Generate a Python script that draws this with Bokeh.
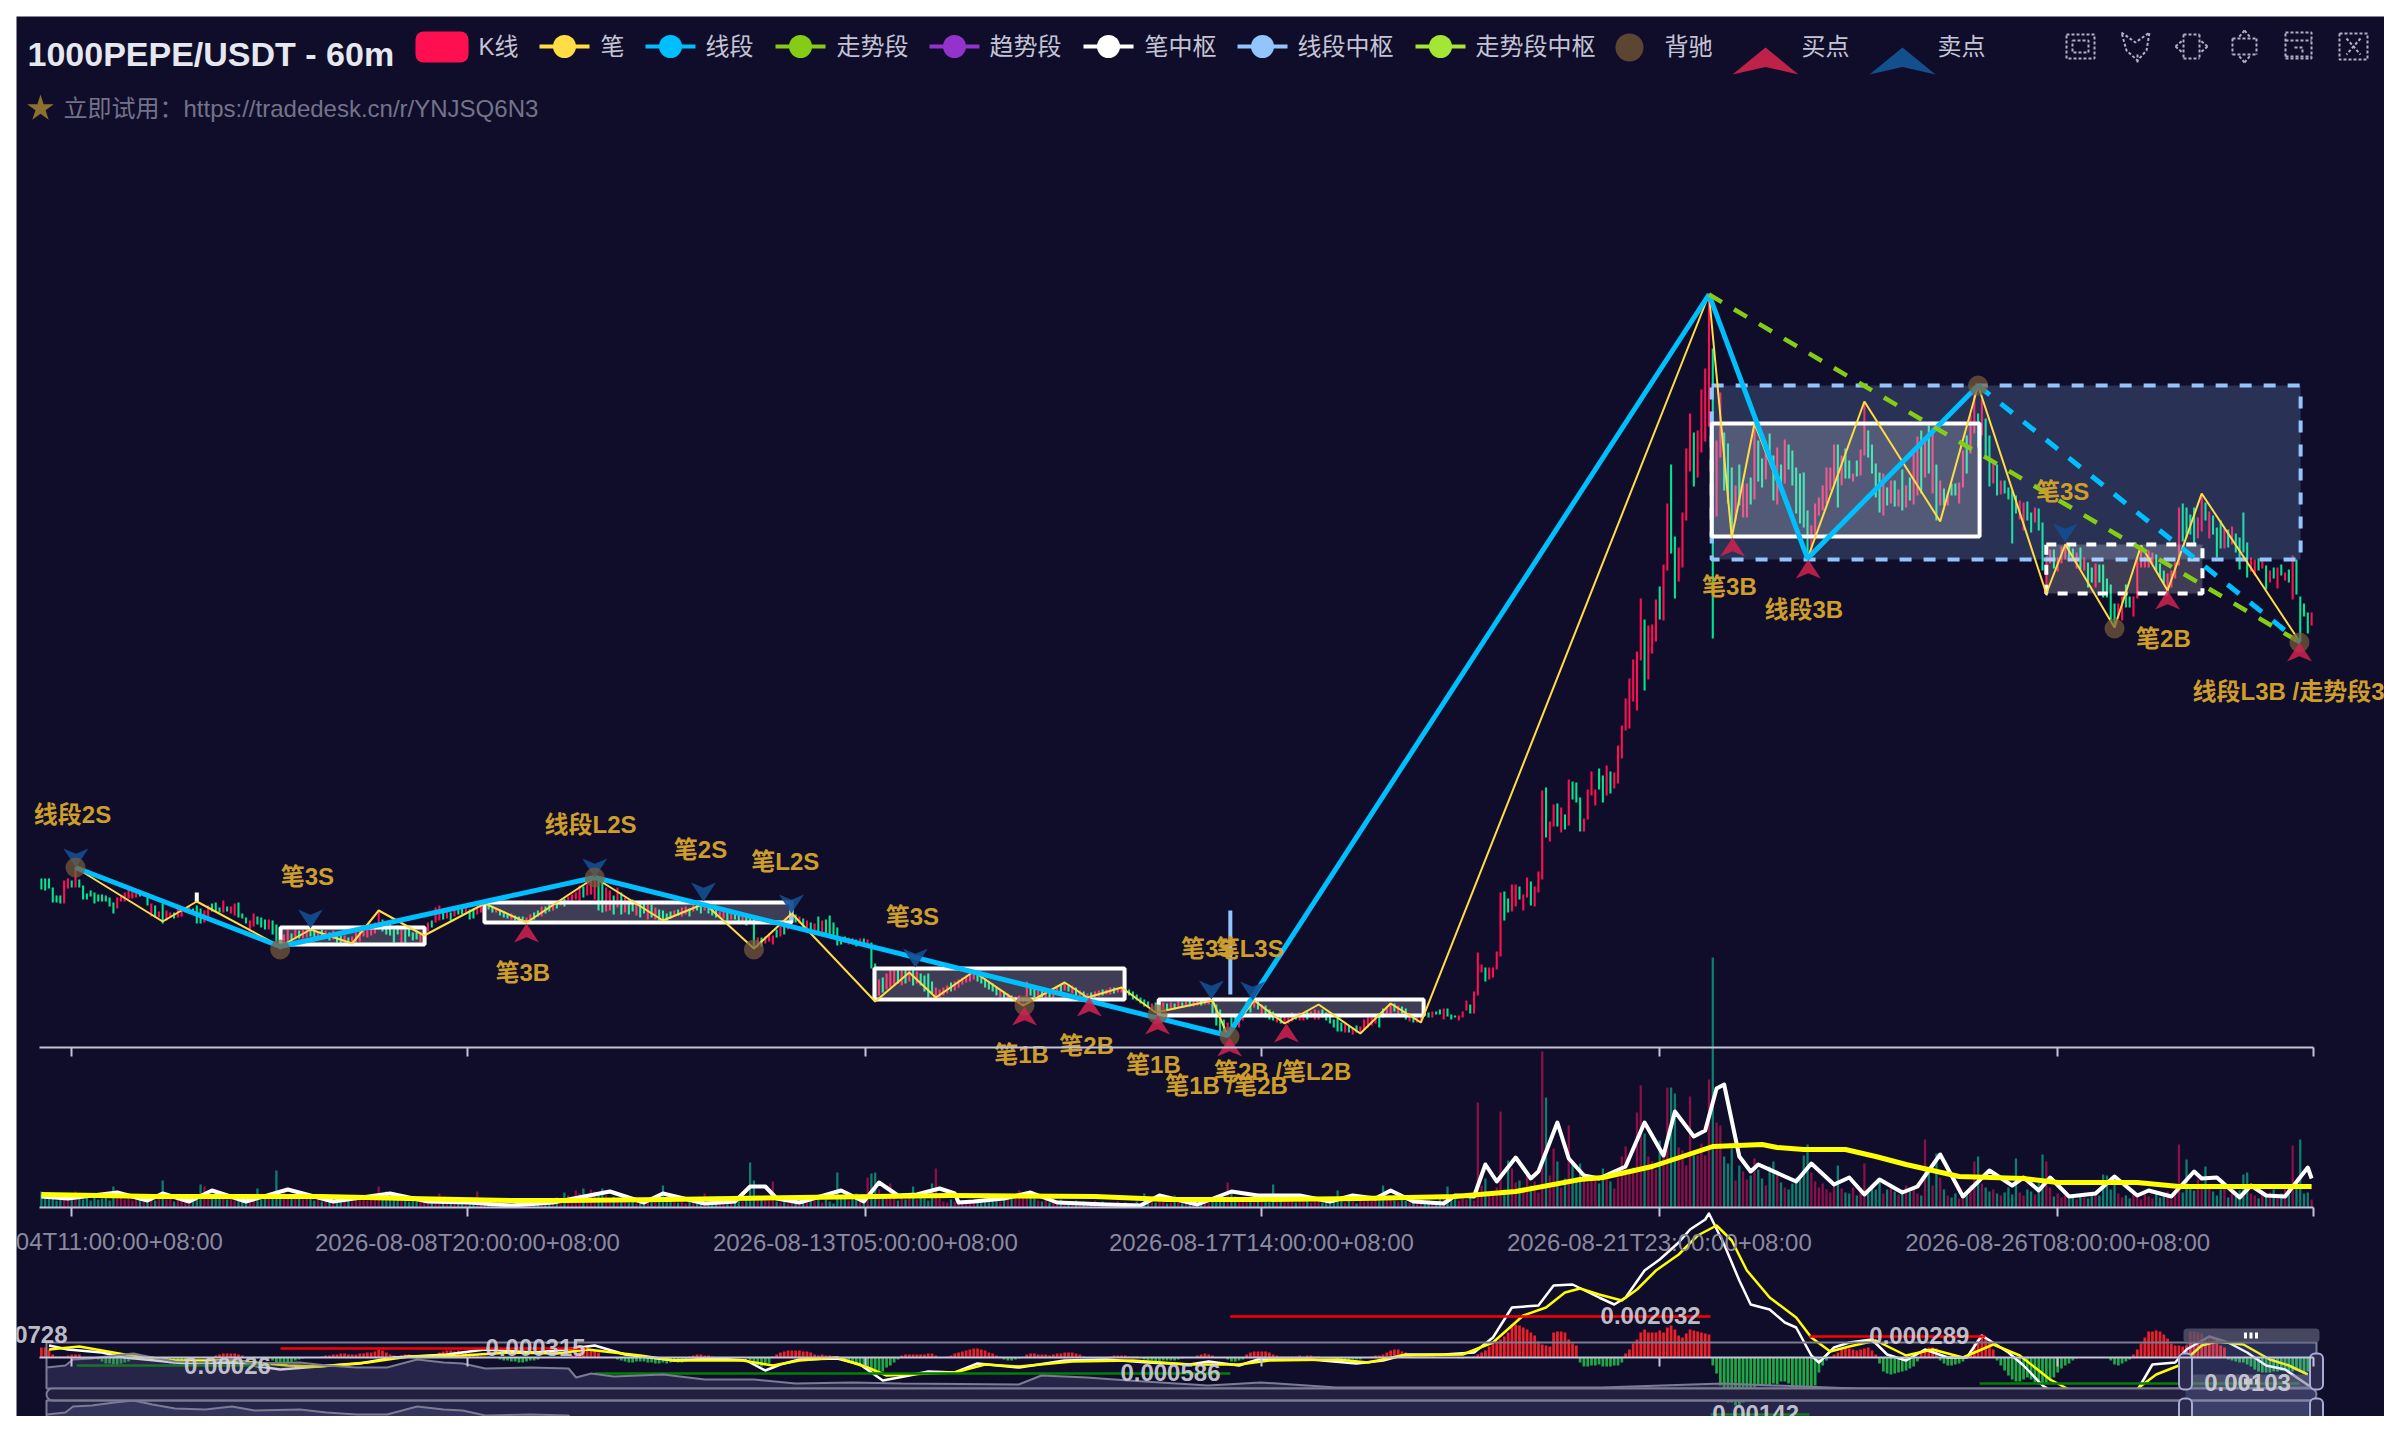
import numpy as np
from bokeh.core.properties import value
from bokeh.embed import file_html
from bokeh.models import FixedTicker, LinearAxis, Range1d
from bokeh.plotting import figure
from bokeh.resources import INLINE

title_text = "1000PEPE/USDT - 60m"
subtitle_text = "立即试用：https://tradedesk.cn/r/YNJSQ6N3"
tick_bars = [7.9, 112.4, 217.4, 321.9, 426.9, 532, 599.5]
tick_labels = ["2026-08-04T11:00:00+08:00", "2026-08-08T20:00:00+08:00", "2026-08-13T05:00:00+08:00",
               "2026-08-17T14:00:00+08:00", "2026-08-21T23:00:00+08:00", "2026-08-26T08:00:00+08:00", ""]

# candles: open, close pairs
candle_open_close = [
169,158,169,157,169,159,160,145,152,145,152,144,144,167,159,169,167,160,160,180,
168,160,162,148,154,148,157,151,155,144,153,146,153,146,152,146,150,141,145,134,
139,150,146,152,146,155,149,159,149,160,150,157,157,151,151,155,154,142,131,144,
142,130,130,136,144,124,127,137,130,135,135,129,130,139,131,140,135,139,134,142,
139,134,142,124,139,124,125,137,128,142,144,136,145,136,140,135,135,147,141,136,
134,141,132,144,145,130,134,129,130,124,116,127,121,134,131,123,130,120,128,118,
118,128,127,113,123,100,110,98,104,113,105,118,114,106,108,118,117,109,109,118,
110,119,119,111,118,108,108,116,118,110,109,117,115,107,108,117,114,105,112,104,
105,112,110,103,103,111,105,115,106,117,111,121,110,121,112,124,114,125,118,137,
128,116,123,113,124,112,118,105,122,113,103,120,118,105,122,111,115,107,116,108,
105,114,108,116,116,125,127,120,125,140,127,142,136,128,129,137,135,127,131,140,
139,133,140,133,135,142,138,128,139,129,133,141,135,143,134,144,144,138,141,135,
135,140,138,132,136,130,134,129,128,134,132,127,131,124,131,126,125,130,126,133,
135,128,137,131,131,141,141,134,143,136,137,145,146,139,142,148,149,141,145,151,
146,153,148,155,146,162,161,150,152,163,153,170,148,172,170,137,165,135,136,160,
137,157,152,133,140,160,155,133,135,150,147,133,148,136,132,146,146,130,145,134,
128,147,143,130,128,140,138,127,137,126,134,127,136,129,131,137,138,132,131,140,
133,141,139,131,136,143,144,137,145,134,137,146,143,134,141,132,139,130,131,136,
129,138,136,127,128,134,135,128,134,126,126,132,131,122,132,125,130,100,100,110,
110,101,104,111,106,114,103,112,118,110,111,121,123,113,118,128,120,134,133,125,
124,131,129,118,119,127,125,115,116,124,131,113,114,127,128,114,132,113,125,110,
120,102,110,103,111,105,103,110,109,103,108,101,102,109,109,103,101,108,105,79,
84,47,52,68,70,55,58,74,60,78,62,80,78,64,62,78,80,64,66,81,
78,62,64,76,74,62,72,56,74,50,66,54,50,60,50,58,52,60,54,62,
65,56,57,66,60,68,63,70,65,72,66,76,68,77,74,66,71,64,69,60,
66,58,64,56,60,52,50,58,56,49,48,54,52,46,45,51,43,52,42,50,
50,66,62,52,60,50,50,58,57,50,48,56,56,50,48,57,54,60,63,54,
57,65,63,56,54,62,60,52,51,57,56,50,49,54,55,50,50,56,51,57,
58,52,53,58,53,60,60,54,55,60,55,61,58,52,58,52,56,48,53,47,
50,44,48,41,46,40,38,44,45,35,36,47,38,45,44,38,39,45,44,38,
40,46,45,40,41,46,47,41,41,47,42,47,48,42,43,49,43,50,48,34,
43,22,38,14,28,14,13,25,30,18,32,20,20,30,27,38,38,47,48,35,
40,50,46,38,32,43,42,30,38,28,36,27,25,31,32,24,24,33,24,30,
26,35,33,28,27,35,27,33,36,28,30,36,28,38,28,37,38,30,35,27,
33,24,28,20,30,16,25,16,15,24,22,15,13,20,22,15,14,21,18,28,
20,30,22,30,24,33,34,20,39,30,31,40,34,44,44,36,33,42,41,34,
39,28,26,34,32,25,25,30,25,31,
36,32,35,30,30,36,36,33,38,33,28,39,39,31,33,28,32,30,27,32,
30,36,37,47,43,34,34,56,52,95,75,83,80,66,68,80,70,80,78,96,
91,155,156,127,149,135,136,163,141,163,161,148,137,153,150,170,166,142,141,161,
155,176,168,257,260,210,206,226,221,243,244,221,215,240,233,218,222,268,266,248,
265,245,250,216,216,229,228,258,252,276,242,258,279,258,272,245,252,282,276,254,
259,275,264,302,289,322,317,349,319,369,346,388,337,396,387,449,428,357,368,422,
394,423,406,448,461,428,427,483,477,544,583,494,511,449,466,500,480,535,527,599,
576,634,615,561,570,617,595,658,606,679,621,753,699,409,
531,607,590,655,615,557,604,544,580,512,527,562,583,542,530,564,530,564,570,543,
548,624,607,566,589,560,568,607,614,592,592,547,543,600,583,558,564,608,603,578,
597,562,580,534,574,524,575,520,537,489,492,522,509,544,532,550,537,562,544,580,
557,580,563,603,603,540,562,592,599,569,587,569,566,574,587,571,572,598,592,645,
617,590,603,574,584,550,575,535,532,574,560,542,544,567,567,541,541,558,578,537,
540,562,570,547,543,597,552,611,617,554,570,609,622,574,554,619,583,527,542,567,
559,542,542,554,564,552,564,552,544,565,560,597,612,574,594,633,614,661,634,600,
612,648,629,590,612,561,564,584,583,552,553,567,567,554,
560,548,557,504,552,534,528,547,517,545,546,527,535,515,525,540,539,517,525,477,455,491,
484,498,498,479,476,490,484,501,488,504,503,490,499,490,479,495,500,478,477,490,
485,460,480,465,460,484,483,465,483,450,469,450,463,428,444,420,429,444,427,451,
463,440,451,440,431,451,449,490,480,500,480,491,480,497,484,495,493,477,484,470,
477,464,453,474,460,477,469,485,482,540,544,506,540,510,533,513,540,504,509,530,
516,553,545,527,509,536,532,513,520,490,527,499,499,519,518,500,503,521,514,495,
510,478,535,495,505,470,476,490,472,488,489,477,479,487,482,458,465,477,480,469,
459,480,483,472,467,475,478,465,448,492,488,453,451,407,444,431,435,414,422,435]

volume = [
16,11,9,13,7,9,12,8,10,16,11,8,12,7,10,8,9,13,7,21,9,12,8,10,7,9,11,6,8,12,
7,10,27,8,11,6,9,12,7,9,10,8,23,21,12,14,17,9,12,8,10,7,11,8,13,9,12,19,8,10,
11,9,37,12,16,10,13,9,14,8,10,12,7,9,6,10,8,11,5,9,7,10,6,12,8,10,7,9,13,21,
9,16,10,8,12,7,9,6,10,8,7,9,5,10,6,14,8,6,9,7,5,8,6,10,7,16,6,5,9,4,
5,7,4,6,5,8,4,6,3,5,4,7,6,5,9,7,10,8,15,12,11,17,14,19,13,18,16,15,19,12,
9,11,7,6,8,5,7,4,6,5,7,6,9,10,22,9,8,6,5,7,4,6,5,7,9,14,6,5,4,7,
5,6,8,5,7,6,9,45,27,12,9,8,7,26,6,5,8,4,6,5,7,6,9,10,7,13,5,8,6,4,
35,9,11,7,12,14,10,8,30,34,35,18,13,10,24,9,7,12,8,11,21,8,10,9,7,24,39,13,6,5,
8,6,9,5,7,4,8,6,5,9,7,10,8,6,12,10,9,13,17,14,12,10,9,7,6,8,5,7,6,8,
5,6,4,7,5,6,4,5,7,4,6,4,5,3,6,4,5,3,4,6,4,14,5,6,5,13,6,4,5,12,
8,4,6,3,5,4,7,5,6,8,9,12,10,25,14,11,9,8,10,7,9,8,10,7,12,23,7,9,6,8,
7,5,8,6,9,5,7,6,5,8,6,9,17,7,5,8,6,4,9,6,8,10,7,13,22,9,11,7,6,8,
7,5,9,6,8,5,7,4,6,10,11,21,12,10,7,9,8,11,7,105,22,29,12,14,20,96,18,47,39,25,
27,18,37,22,26,15,156,110,32,59,46,20,29,82,44,30,44,35,25,30,28,24,39,32,26,19,30,51,61,34,
40,95,122,74,51,46,38,67,58,120,120,114,60,57,42,111,52,52,64,52,128,250,85,82,51,44,59,27,42,36,
28,32,49,38,29,22,41,46,35,25,20,18,24,30,28,52,63,35,26,20,24,18,15,22,42,19,15,14,20,12,
16,44,15,22,18,25,14,18,22,16,13,18,22,16,20,14,12,68,39,22,54,30,18,12,10,14,9,12,15,22,
46,51,24,20,16,18,14,12,15,20,13,49,15,12,18,16,13,25,53,46,20,11,14,10,12,9,11,8,12,10,
9,13,15,12,33,32,18,30,14,10,12,9,14,10,8,13,11,9,14,10,12,16,8,14,63,15,48,20,17,28,
24,41,22,16,12,18,20,10,15,12,17,33,35,14,12,9,16,11,15,18,12,14,20,16,62,24,68,14,15,8]

vol_ma5_bar = [0,7,20,28,32,39,45,54,65,77,92,102,113,124,135,150,159,164,175,183,187,191,194,200,211,217,221,226,231,237,241,242,246,254,261,268,281,290,295,305,314,321,332,340,346,352,356,362,370,373,378,381,384,389,393,395,400,403,407,411,418,423,428,431,436,439,442,444,448,451,453,463,467,473,477,481,485,491,495,501,507,514,520,523,527,530,535,542,547,553,556,562,568,570,574,580,583,587,592,598,599]
vol_ma5 = [11,9,15,7,14,6,17,6,18,6,14,6,5,2,5,16,5,14,4,6,21,21,9,5,17,6,25,12,13,19,14,5,6,9,15,5,3,2,12,3,16,12,12,6,12,9,17,6,4,12,11,43,26,50,29,36,85,49,32,29,41,85,52,96,71,77,119,123,51,36,43,26,44,23,30,13,28,15,21,53,11,37,22,30,17,30,11,14,31,12,17,11,36,29,30,10,22,12,11,40,29]
vol_ma_bar = [0,30,74,97,124,138,165,200,240,278,297,321,348,373,389,406,412,425,441,454,458,465,476,484,492,506,523,532,553,564,581,599]
vol_ma = [13,11,11,9,7,7,8,10,12,11,8,8,9,11,16,28,30,41,61,63,60,58,58,51,43,31,29,25,25,21,21,21]

hist_starts = [0,15,32,46,60,74,95,103,121,140,152,171,187,193,210,227,239,254,260,282,291,305,313,318,342,351,364,374,378,406,418,441,473,485,496,501,508,516,546,552,577]
hist_runs = [[10,10,8,3,1,1,1,2,3,3,3],[-2,-4,-6,-6,-7,-7,-6,-5,-4,-2],[-3,-5,-6,-7,-6,-5,-3],[2,3,4,4,4,4,3,2],
[-1,-3,-5,-7,-7,-6,-5,-3,-2,-1],[1,2,2,3,3,4,4,3,3,3,4,4,5,5,6,8,7,5,3,2],[2,3,3,2,2,1,1],[1,3,5,6,7,7,6,7,6,5,4,2,2,1,1,1],
[-2,-3,-3,-4,-4,-5,-5,-4,-3,-3,-2],[2,4,6,8,8,8,7,5],[-2,-3,-4,-5,-5,-4,-4,-4,-5,-5,-6,-6,-5,-6,-5,-4,-5,-5,-4,-3],[1,2,3,3,2,2,1],
[-3,-6,-8,-9,-8,-6],[1,3,5,6,7,7,7,7,6,6,5,3,2,3,2,2,1],[-1,-2,-3,-4,-5,-6,-7,-9,-11,-14,-17,-17,-14,-10,-8,-5,-2],[2,3,3,3,3,3,3,4,4,2],
[1,2,4,5,6,7,8,9,9,8,7,5,4,2,1],[-2,-3,-3,-2,-1],[3,4,4,3,3,3,2,3,4,4,5,5,5,4,3,1],[1,2,2,2,2,1,1,1],[-2,-3,-3,-4,-4,-3,-3,-3,-3,-2,-1],
[2,3,4,3,2],[-2,-4,-4,-3,-2],[3,5,6,6,6,6,5,3,2,1,1,1,1,1,2,1,2,2,1,1],[-2,-3,-3,-3,-2,-2,-2],[1,2,2,3,5,7,8,8,6,5,3,1],[1,1,1,1],[-1,-1],
[1,3,5,7,11,14,16,18,21,25,33,33,32,30,28,25,22,16,13,12,11,25,26,26,25,18,14,12],[-5,-9,-9,-8,-8,-7,-9,-9,-9,-8,-8,-5],
[4,8,14,18,25,28,25,25,25,27,25,30,32,28,22,20,24,28,27,26,25,24,23],
[-8,-16,-28,-34,-45,-45,-48,-48,-45,-42,-35,-30,-28,-27,-27,-28,-26,-27,-24,-24,-26,-30,-35,-38,-40,-42,-35,-28,-15,-8,-3],
[3,5,8,10,9,8,7,8,9,10,7,3],[-6,-14,-16,-17,-16,-15,-14,-13,-11,-9,-4],[5,8,10,10,9],[-3,-6,-8,-8,-7,-6,-4],[2,6,14,18,20,20,15,8],
[-3,-8,-13,-18,-22,-24,-24,-22,-20,-22,-25,-27,-27,-26,-24,-20,-15,-11,-8,-6,-3,-1],[-3,-7,-8,-6,-4,-2],
[3,8,14,20,26,26,27,26,23,19,14,12,12,11,12,26,26,25,24,20,22,20,18,12,10],
[-2,-3,-4,-5,-5,-7,-9,-12,-14,-15,-15,-15,-14,-14,-13,-12,-14,-14,-13,-13,-15,-14,-16]]

dif_bar = [2,7,16,22,30,38,50,63,73,84,93,107,117,130,136,146,154,167,178,186,191,195,200,210,216,222,229,234,241,247,258,270,281,292,303,308,316,321,335,347,354,360,370,378,383,388,395,399,404,411,415,418,423,427,432,435,439,440,444,448,451,456,460,463,467,469,473,477,483,487,492,497,503,508,512,519,523,528,532,537,545,549,553,557,563,566,572,577,582,587,592,599]
dif = [12,8,5,0,-3,-6,-5,-12,-9,-6,0,3,8,5,7,12,3,-3,-1,-3,-13,-7,-2,-1,-7,-23,-18,-14,-15,-6,-10,-3,-2,-5,-7,-4,-8,-2,-2,-6,-3,3,3,5,20,50,52,72,73,60,53,60,87,98,115,128,138,144,113,77,53,48,35,30,2,-5,10,15,18,3,-3,8,0,0,22,5,-8,-28,-37,-33,-33,-41,-33,-7,-5,8,21,15,5,-8,-12,-30]
dea_bar = [2,10,22,35,50,65,73,86,97,111,124,136,144,158,167,185,193,200,210,218,223,234,241,249,258,272,288,303,316,324,342,350,359,375,383,391,397,402,406,411,417,421,426,432,437,442,446,450,456,463,467,472,477,484,492,499,507,515,522,530,535,543,551,558,564,570,574,581,588,593,598]
dea = [8,11,3,-3,-3,-8,-9,-5,1,2,5,4,8,2,-3,-3,-8,-3,0,-10,-18,-16,-15,-7,-9,-4,-3,-7,-7,-3,-2,-5,2,3,15,42,50,65,69,63,57,68,87,103,122,132,117,87,60,40,20,6,11,17,2,8,0,13,2,-22,-32,-33,-37,-17,-8,12,16,13,-2,-8,-17]

pen_bar = [9,32,41,63,71,82,89,101,117,128,146,164,175,188,198,220,229,236,246,259,270,276,285,294,309,313,320,328,337,348,356,364,440,446,452,466,481,501,511,529,534,547,554,561,570,596]
pen_price = [180,126,146,101,118,104,137,112,144,125,170,127,144,99,134,46,75,50,76,42,65,50,60,35,47,12,47,24,43,14,44,25,753,510,624,489,646,526,662,454,503,420,502,457,554,405]
seg_bar = [9,63,146,313,440,466,511]
seg_price = [180,101,170,12,753,489,662]
seg_dash_bar = [511,596]
seg_dash_price = [662,405]
trend_bar = [440,596]
trend_price = [753,405]

pen_hub_left = [63.1,116.9,219.8,294.8,440.7]
pen_hub_right = [101.1,197.9,285.8,364.7,511.4]
pen_hub_top = [120,145,79,48,624]
pen_hub_bottom = [103,125,48,32,511]
pen_hub_dash = (529, 570.2, 503, 454)
seg_hub = (440.7, 596.1, 662, 488)
flat_pen_hub = (41, 155, 145)
flat_seg_hubs = [(313.7, 137, 53), (197.9, 147, 127)]

div_bar = [9,63,146,188,259.4,294.5,313.5,511,547,595.8]
div_price = [180,98,170,98,42,33,11,662,419,405]
buy_bar = [128,259.4,276.5,294.5,313.5,328.5,446.2,466.2,561,595.8]
buy_price = [124,41,50,32,10,24,510,488,457,405]
sell_bar = [9.1,71,146,174.7,197.9,230.6,308.7,319.6,534]
sell_price = [180,119,170,146,134,80,48,47,505]

signal_texts = ["线段2S","笔3S","线段L2S","笔2S","笔L2S","笔3B","笔3S","笔3S","笔L3S","笔1B","笔2B","笔1B","笔1B /笔2B","笔2B /笔L2B","笔3B","线段3B","笔3S","笔2B","线段L3B /走势段3B"]
signal_bar = [8.2,70.2,144.9,173.9,196.3,127,229.8,307.7,318.8,258.6,275.8,293.4,312.7,327.5,445.4,465,533.3,559.9,595.2]
signal_price = [233,171,223,198,186,75,131,99,99,-7,2,-17,-38,-24,461,438,556,409,356]

red_line_start = [63.1,313.7,466.5]
red_line_end = [143.8,440.4,512.9]
red_line_level = [9,41,21]
green_line_start = [9.3,146,440.4,511.4]
green_line_end = [60.5,313.7,466.5,595.8]
green_line_level = [-8,-16,-57,-26]
mark_texts = ["0.000728","0.00026","0.000315","0.000586","0.002032","0.00142","0.000289","0.00103"]
mark_bar = [-6.3,49.1,130.4,297.9,424.6,452.3,495.5,582.1]
mark_level = [23,-8,10,-15,42,-56,22,-25]

overview_bar = [0,5,7,12,18,23,28,34,42,49,55,67,74,82,90,98,105,110,116,128,138,140,144,150,163,174,187,198,213,226,257,263,275,286,307,321,341,411,443,478,519,598]
overview_value = [21,23,29,30,33,35,31,27,26,29,25,26,23,21,21,29,26,25,20,21,20,11,15,12,14,9,9,5,6,5,4,13,11,8,3,6,1,1,5,0,-2,1]

# ---------- layout ----------
BG = "#100D2B"
UP, DOWN = "#FF0F50", "#00E68E"
FONT = "Liberation Sans, 'Noto Sans CJK SC'"
BAR_PX = 3.79
L, T, W, H = 16, 16, 2368, 1400
BASE_X, MAIN_BASE = 39, 1047
def X(px): return (px - BASE_X) / BAR_PX - 0.5
def Y(py): return MAIN_BASE - py
def yrange(base_py):
    return Range1d(base_py - (T + H), base_py - T)

p = figure(width=W + L, height=H + T, output_backend="svg", toolbar_location=None, x_axis_type=None, y_axis_type=None,
           x_range=Range1d(X(L), X(L + W)), y_range=yrange(MAIN_BASE),
           min_border_left=L, min_border_top=T, min_border_right=0, min_border_bottom=0,
           background_fill_color=BG, border_fill_color="white", outline_line_color=None)
p.grid.visible = False
p.extra_y_ranges = {"vol": yrange(1207), "macd": yrange(1357), "ov1": yrange(1388), "ov2": yrange(1435)}
p.extra_x_ranges = {"ov": Range1d((L - 46) / 3.783, (L + W - 46) / 3.783)}

def add_axis(loc, rng, labels):
    # the first date sits across the chart's left edge, so it is drawn below as a clipped text
    overrides = {k: (t if labels and i > 0 else "") for i, (k, t) in enumerate(zip(tick_bars, tick_labels))}
    ax = LinearAxis(fixed_location=loc, y_range_name=rng, ticker=FixedTicker(ticks=tick_bars),
                    bounds=(-0.5, 599.5), axis_line_color="#C4C4D8", axis_line_width=2,
                    major_tick_line_color="#C4C4D8", major_tick_line_width=2, major_tick_in=0, major_tick_out=9,
                    minor_tick_line_color=None, major_label_standoff=12,
                    major_label_text_font=FONT, major_label_text_font_size="24px",
                    major_label_text_color="#8A8A9E" if labels else None,
                    major_label_overrides=overrides)
    p.add_layout(ax, "below")
add_axis(0, "default", False)
add_axis(0, "vol", True)
add_axis(0, "macd", False)
p.text([tick_bars[0]], [-34], text=[tick_labels[0]], y_range_name="vol", text_font=value(FONT), text_font_size="24px",
       text_color="#8A8A9E", text_align="center", text_baseline="middle")

# candles
co = np.array(candle_open_close, dtype=float)
opens, closes = co[::2], co[1::2]
bars = np.arange(len(opens))
cols = [UP if c >= o else DOWN for o, c in zip(opens, closes)]
p.vbar(x=bars, bottom=np.minimum(opens, closes), top=np.maximum(opens, closes), width=0.55, fill_color=cols, line_color=None)

# hubs
p.quad(left=[seg_hub[0]], right=[seg_hub[1]], top=[seg_hub[2]], bottom=[seg_hub[3]], fill_color="#93C5FD", fill_alpha=0.2,
       line_color="#93C5FD", line_width=4, line_dash="12 12")
p.quad(left=pen_hub_left, right=pen_hub_right, top=pen_hub_top, bottom=pen_hub_bottom, fill_color="white", fill_alpha=0.2,
       line_color="white", line_width=4)
p.quad(left=[pen_hub_dash[0]], right=[pen_hub_dash[1]], top=[pen_hub_dash[2]], bottom=[pen_hub_dash[3]], fill_color="white",
       fill_alpha=0.2, line_color="white", line_width=4, line_dash="10 10")
p.segment(x0=[flat_pen_hub[0]], x1=[flat_pen_hub[0]], y0=[flat_pen_hub[1]], y1=[flat_pen_hub[2]], line_color="white", line_width=4)
p.segment(x0=[h[0] for h in flat_seg_hubs], x1=[h[0] for h in flat_seg_hubs], y0=[h[1] for h in flat_seg_hubs],
          y1=[h[2] for h in flat_seg_hubs], line_color="#93C5FD", line_width=4)

# strokes
p.line(pen_bar, pen_price, line_color="#FFDD44", line_width=2)
p.line(seg_bar, seg_price, line_color="#00BFFF", line_width=5)
p.line(seg_dash_bar, seg_dash_price, line_color="#00BFFF", line_width=5, line_dash="15 14")
p.line(trend_bar, trend_price, line_color="#85CC16", line_width=4.5, line_dash="15 14")

# markers
def arrows(bar, price, up, w=25, h=19):
    s = 1 if up else -1
    dx = w / 2 / BAR_PX
    xs = [[b, b + dx, b, b - dx] for b in bar]
    ys = [[q, q - s * h, q - s * h * 0.72, q - s * h] for q in price]
    return xs, ys
xs, ys = arrows(sell_bar, sell_price, False)
p.patches(xs, ys, fill_color="#134F90", fill_alpha=0.9, line_color=None)
p.scatter(div_bar, div_price, size=20, marker="circle", fill_color="#7A5C3A", fill_alpha=0.7, line_color=None)
xs, ys = arrows(buy_bar, buy_price, True)
p.patches(xs, ys, fill_color="#D0234F", fill_alpha=0.85, line_color=None)
p.text(signal_bar, signal_price, text=signal_texts, text_font=value(FONT), text_font_style="bold", text_font_size="24px",
       text_color="#CE9E2A", text_align="center", text_baseline="middle")

# volume
vcols = ["#8B1048" if c >= o else "#0C7F6E" for o, c in zip(opens, closes)]
p.vbar(x=bars, bottom=0, top=volume, width=0.6, fill_color=vcols, line_color=None, y_range_name="vol")
p.line(vol_ma5_bar, vol_ma5, line_color="white", line_width=4, line_join="round", y_range_name="vol")
p.line(vol_ma_bar, vol_ma, line_color="#FFFF00", line_width=5, line_join="round", y_range_name="vol")

# MACD
hist = np.zeros(len(bars))
for s, run in zip(hist_starts, hist_runs):
    hist[s:s + len(run)] = run
hcols = ["#EE2027" if h >= 0 else "#1FA843" for h in hist]
p.vbar(x=bars, bottom=0, top=hist, width=0.72, fill_color=hcols, line_color=None, y_range_name="macd")
p.line(dif_bar, dif, line_color="white", line_width=2.5, line_join="round", y_range_name="macd")
p.line(dea_bar, dea, line_color="#FFFF00", line_width=2.5, line_join="round", y_range_name="macd")
p.segment(red_line_start, red_line_level, red_line_end, red_line_level, line_color="#FF0000", line_width=2.5, y_range_name="macd")
p.segment(green_line_start, green_line_level, green_line_end, green_line_level, line_color="#008000", line_width=2.5, y_range_name="macd")

# data zoom sliders
GR = "#7B7B92"
for rng in ("ov1", "ov2"):
    p.varea(overview_bar, y1=-60, y2=overview_value, fill_color="#5A5A8A", fill_alpha=0.3, x_range_name="ov", y_range_name=rng)
    p.line(overview_bar, overview_value, line_color=GR, line_width=2, x_range_name="ov", y_range_name=rng)
p.quad(left=[X(46)], right=[X(2316)], top=[Y(1342)], bottom=[Y(1388)], fill_color=None, line_color=GR, line_width=2)
p.quad(left=[X(46)], right=[X(2316)], top=[Y(1388)], bottom=[Y(1400)], fill_color="#231F3E", line_color=GR, line_width=2, border_radius=6)
p.quad(left=[X(46)], right=[X(2316)], top=[Y(1400)], bottom=[Y(1460)], fill_color=None, line_color=GR, line_width=2)
p.quad(left=[X(2185)], right=[X(2316)], top=[Y(1342)], bottom=[Y(1440)], fill_color="#8FB0F7", fill_alpha=0.2, line_color=None)
p.quad(left=[X(2183)], right=[X(2319)], top=[Y(1328)], bottom=[Y(1342)], fill_color="#55556E", fill_alpha=0.8, line_color=None, border_radius=4)
p.quad(left=[X(2185)], right=[X(2316)], top=[Y(1374)], bottom=[Y(1388)], fill_color="#70708A", fill_alpha=0.5, line_color=None)
for cx in (2245, 2250.5, 2256):
    p.quad(left=[X(cx - 1.5)], right=[X(cx + 1.5)], top=[Y(1332)], bottom=[Y(1338)], fill_color="white", line_color=None)
    p.quad(left=[X(cx - 1.5)], right=[X(cx + 1.5)], top=[Y(1378)], bottom=[Y(1384)], fill_color="#C8C8D8", line_color=None)
for cx in (2185, 2316):
    for top, bot in ((1353, 1389), (1398, 1450)):
        p.quad(left=[X(cx - 6.5)], right=[X(cx + 6.5)], top=[Y(top)], bottom=[Y(bot)], fill_color="#2B2A4C",
               line_color="#A7ACD2", line_width=2, border_radius=5)
p.text(mark_bar, mark_level, text=mark_texts, y_range_name="macd", text_font=value(FONT), text_font_style="bold",
       text_font_size="24px", text_color="#D4D4DC", text_alpha=0.9, text_align="center", text_baseline="middle")

# title + legend
def label(px, py, s, size="24px", color="#C4C4D4", style="normal"):
    p.text([X(px)], [Y(py)], text=[s], text_font=value(FONT), text_font_size=size, text_color=color,
           text_font_style=style, text_align="left", text_baseline="middle")
label(27, 53, title_text, "34px", "#E6E8F0", "bold")
p.scatter([X(40)], [Y(108)], marker="star", size=28, fill_color="#8C7030", line_color=None)
label(63, 108, subtitle_text, "24px", "#73738A")
p.quad(left=[X(415)], right=[X(468)], top=[Y(31)], bottom=[Y(62)], fill_color=UP, line_color=None, border_radius=8)
label(478, 46, "K线")
legend_centers = [564, 670, 800, 954, 1108, 1262, 1440]
legend_text_x = [600, 705, 836, 989, 1144, 1297, 1475]
legend_names = ["笔", "线段", "走势段", "趋势段", "笔中枢", "线段中枢", "走势段中枢"]
legend_colors = ["#FFDD44", "#00BFFF", "#85CC16", "#9333CC", "#FFFFFF", "#93C5FD", "#A3E635"]
for cx, tx, nm, c in zip(legend_centers, legend_text_x, legend_names, legend_colors):
    p.segment([X(cx - 25)], [Y(46)], [X(cx + 25)], [Y(46)], line_color=c, line_width=4)
    p.scatter([X(cx)], [Y(46)], marker="circle", size=23, fill_color=c, line_color=None)
    label(tx, 46, nm)
p.scatter([X(1629)], [Y(47)], marker="circle", size=28, fill_color="#5C4533", line_color=None)
label(1664, 46, "背驰")
for cx, c, tx, nm in ((1765, "#BE2249", 1801, "买点"), (1902, "#134E8D", 1937, "卖点")):
    xs, ys = arrows([X(cx)], [Y(47)], True, 66, 27)
    p.patches(xs, ys, fill_color=c, line_color=None)
    label(tx, 46, nm)

# toolbox icons (dashed outline glyphs)
icon_centers = [2080, 2135, 2191, 2244, 2298, 2353]
icon_paths = [
    [[(-14,-12),(14,-12),(14,12),(-14,12),(-14,-12)], [(-8,-6),(8,-6),(8,6),(-8,6),(-8,-6)]],
    [[(-14,-14),(0,-4),(14,-14),(11,4),(2,14),(-9,4),(-14,-14)], [(2,8),(2,18)]],
    [[(-8,-12),(8,-12)], [(-8,12),(8,12)], [(-8,-12),(-8,12)], [(8,-12),(8,12)], [(-16,0),(-9,-6)], [(-16,0),(-9,6)], [(16,0),(9,-6)], [(16,0),(9,6)]],
    [[(-12,-8),(12,-8)], [(-12,8),(12,8)], [(-12,-8),(-12,8)], [(12,-8),(12,8)], [(0,-16),(-6,-9)], [(0,-16),(6,-9)], [(0,16),(-6,9)], [(0,16),(6,9)]],
    [[(-13,-14),(13,-14),(13,12),(-13,12),(-13,-14)], [(-13,-6),(13,-6)], [(-13,10),(13,10)], [(-4,1),(4,1),(4,6)]],
    [[(-14,-13),(14,-13),(14,13),(-14,13),(-14,-13)], [(-7,-8),(7,8)], [(7,-8),(-7,8)]],
]
for cx, paths in zip(icon_centers, icon_paths):
    p.multi_line([[X(cx + a) for a, _ in path] for path in paths], [[Y(46 + b) for _, b in path] for path in paths],
                 line_color="#B0B0C4", line_width=2, line_dash="3 2")

open("out.html", "w").write(file_html(p, INLINE))
